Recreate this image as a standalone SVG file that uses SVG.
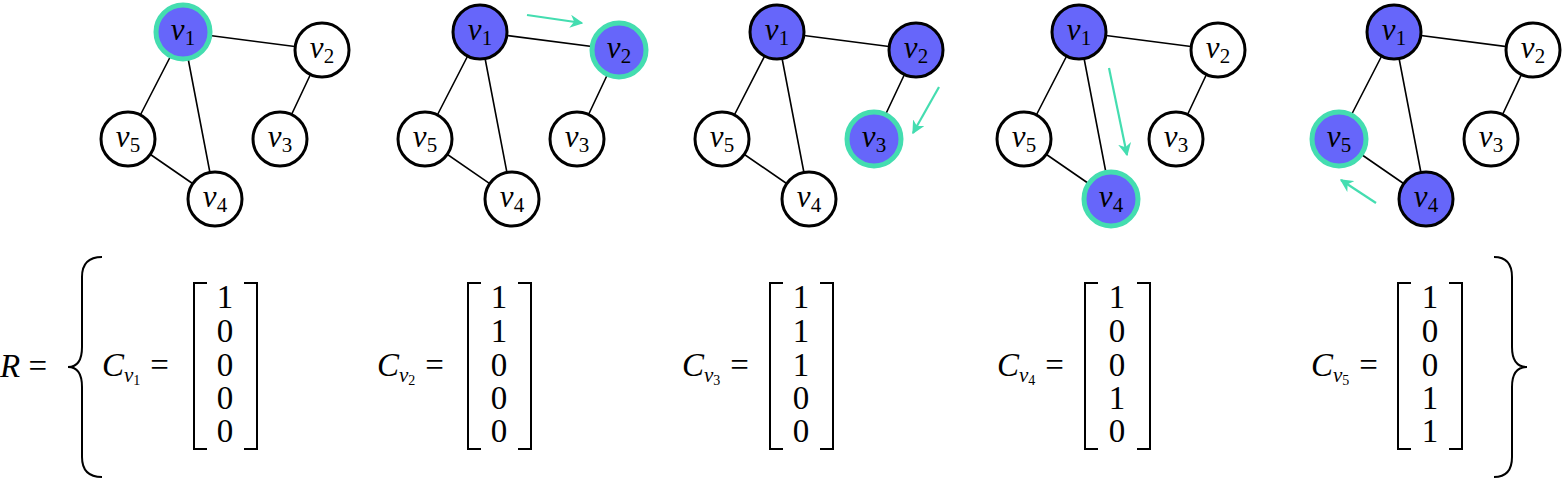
<svg xmlns="http://www.w3.org/2000/svg" width="1565" height="481" viewBox="0 0 1565 481">
<style>
.n{fill:#fff;stroke:#000;stroke-width:3}
.f{fill:#6666fa}
.g{stroke:#44ddb0;stroke-width:5}
.e{stroke:#000;stroke-width:1.6;fill:none}
.a{stroke:#44ddb0;stroke-width:2.2;fill:none;marker-end:url(#ah)}
.lb{font-family:"Liberation Serif",serif;font-size:31px;text-anchor:middle}
.v{font-style:italic}
.s{font-size:21px}
.m{font-family:"Liberation Serif",serif;font-size:33px}
.d{text-anchor:middle}
.br{stroke:#000;stroke-width:2;fill:none}
</style>
<defs>
<marker id="ah" viewBox="0 0 10 10" refX="9" refY="5" markerWidth="6" markerHeight="6" orient="auto" markerUnits="strokeWidth"><path d="M0,0 L10,5 L0,10 L3,5 Z" fill="#44ddb0"/></marker>
</defs>
<g id="connectors">
<path class="e" d="M183,32 L322,50 M183,32 L128,139 M183,32 L215,199 M322,50 L280,139 M128,139 L215,199"/>
<path class="e" d="M480,32 L619,50 M480,32 L425,139 M480,32 L512,199 M619,50 L577,139 M425,139 L512,199"/>
<path class="e" d="M777,32 L916,50 M777,32 L722,139 M777,32 L809,199 M916,50 L874,139 M722,139 L809,199"/>
<path class="e" d="M1079,32 L1218,50 M1079,32 L1024,139 M1079,32 L1111,199 M1218,50 L1176,139 M1024,139 L1111,199"/>
<path class="e" d="M1394,32 L1533,50 M1394,32 L1339,139 M1394,32 L1426,199 M1533,50 L1491,139 M1339,139 L1426,199"/>
<path class="a" d="M527,15 L582,23"/>
<path class="a" d="M939,87 L913,133"/>
<path class="a" d="M1109,68 L1127,155"/>
<path class="a" d="M1376,203 L1341,180"/>
</g>
<!-- panel 1 -->
<g id="p1v1"><circle class="n f g" cx="183" cy="32" r="27"/><text class="lb" x="183" y="40"><tspan class="v">v</tspan><tspan class="s" dy="5">1</tspan></text></g>
<g id="p1v2"><circle class="n" cx="322" cy="50" r="27"/><text class="lb" x="322" y="58"><tspan class="v">v</tspan><tspan class="s" dy="5">2</tspan></text></g>
<g id="p1v3"><circle class="n" cx="280" cy="139" r="27"/><text class="lb" x="280" y="147"><tspan class="v">v</tspan><tspan class="s" dy="5">3</tspan></text></g>
<g id="p1v4"><circle class="n" cx="215" cy="199" r="27"/><text class="lb" x="215" y="207"><tspan class="v">v</tspan><tspan class="s" dy="5">4</tspan></text></g>
<g id="p1v5"><circle class="n" cx="128" cy="139" r="27"/><text class="lb" x="128" y="147"><tspan class="v">v</tspan><tspan class="s" dy="5">5</tspan></text></g>
<!-- panel 2 -->
<g id="p2v1"><circle class="n f" cx="480" cy="32" r="27"/><text class="lb" x="480" y="40"><tspan class="v">v</tspan><tspan class="s" dy="5">1</tspan></text></g>
<g id="p2v2"><circle class="n f g" cx="619" cy="50" r="27"/><text class="lb" x="619" y="58"><tspan class="v">v</tspan><tspan class="s" dy="5">2</tspan></text></g>
<g id="p2v3"><circle class="n" cx="577" cy="139" r="27"/><text class="lb" x="577" y="147"><tspan class="v">v</tspan><tspan class="s" dy="5">3</tspan></text></g>
<g id="p2v4"><circle class="n" cx="512" cy="199" r="27"/><text class="lb" x="512" y="207"><tspan class="v">v</tspan><tspan class="s" dy="5">4</tspan></text></g>
<g id="p2v5"><circle class="n" cx="425" cy="139" r="27"/><text class="lb" x="425" y="147"><tspan class="v">v</tspan><tspan class="s" dy="5">5</tspan></text></g>
<!-- panel 3 -->
<g id="p3v1"><circle class="n f" cx="777" cy="32" r="27"/><text class="lb" x="777" y="40"><tspan class="v">v</tspan><tspan class="s" dy="5">1</tspan></text></g>
<g id="p3v2"><circle class="n f" cx="916" cy="50" r="27"/><text class="lb" x="916" y="58"><tspan class="v">v</tspan><tspan class="s" dy="5">2</tspan></text></g>
<g id="p3v3"><circle class="n f g" cx="874" cy="139" r="27"/><text class="lb" x="874" y="147"><tspan class="v">v</tspan><tspan class="s" dy="5">3</tspan></text></g>
<g id="p3v4"><circle class="n" cx="809" cy="199" r="27"/><text class="lb" x="809" y="207"><tspan class="v">v</tspan><tspan class="s" dy="5">4</tspan></text></g>
<g id="p3v5"><circle class="n" cx="722" cy="139" r="27"/><text class="lb" x="722" y="147"><tspan class="v">v</tspan><tspan class="s" dy="5">5</tspan></text></g>
<!-- panel 4 -->
<g id="p4v1"><circle class="n f" cx="1079" cy="32" r="27"/><text class="lb" x="1079" y="40"><tspan class="v">v</tspan><tspan class="s" dy="5">1</tspan></text></g>
<g id="p4v2"><circle class="n" cx="1218" cy="50" r="27"/><text class="lb" x="1218" y="58"><tspan class="v">v</tspan><tspan class="s" dy="5">2</tspan></text></g>
<g id="p4v3"><circle class="n" cx="1176" cy="139" r="27"/><text class="lb" x="1176" y="147"><tspan class="v">v</tspan><tspan class="s" dy="5">3</tspan></text></g>
<g id="p4v4"><circle class="n f g" cx="1111" cy="199" r="27"/><text class="lb" x="1111" y="207"><tspan class="v">v</tspan><tspan class="s" dy="5">4</tspan></text></g>
<g id="p4v5"><circle class="n" cx="1024" cy="139" r="27"/><text class="lb" x="1024" y="147"><tspan class="v">v</tspan><tspan class="s" dy="5">5</tspan></text></g>
<!-- panel 5 -->
<g id="p5v1"><circle class="n f" cx="1394" cy="32" r="27"/><text class="lb" x="1394" y="40"><tspan class="v">v</tspan><tspan class="s" dy="5">1</tspan></text></g>
<g id="p5v2"><circle class="n" cx="1533" cy="50" r="27"/><text class="lb" x="1533" y="58"><tspan class="v">v</tspan><tspan class="s" dy="5">2</tspan></text></g>
<g id="p5v3"><circle class="n" cx="1491" cy="139" r="27"/><text class="lb" x="1491" y="147"><tspan class="v">v</tspan><tspan class="s" dy="5">3</tspan></text></g>
<g id="p5v4"><circle class="n f" cx="1426" cy="199" r="27"/><text class="lb" x="1426" y="207"><tspan class="v">v</tspan><tspan class="s" dy="5">4</tspan></text></g>
<g id="p5v5"><circle class="n f g" cx="1339" cy="139" r="27"/><text class="lb" x="1339" y="147"><tspan class="v">v</tspan><tspan class="s" dy="5">5</tspan></text></g>
<!-- set -->
<g id="set">
<text class="m" x="0" y="377"><tspan class="v">R</tspan> =</text>
<path class="br" stroke-width="1.6" d="M102,257 Q82,257 82,277 V347 Q82,367 68,367 Q82,367 82,387 V457 Q82,477 102,477"/>
<path class="br" stroke-width="1.6" d="M1494,257 Q1512,257 1512,277 V347 Q1512,367 1527,367 Q1512,367 1512,387 V457 Q1512,477 1494,477"/>
</g>
<g id="m1">
<text class="m" x="102" y="376"><tspan class="v">C</tspan><tspan class="v" font-size="21" dy="6">v</tspan><tspan font-size="14" dy="3">1</tspan><tspan dy="-9" dx="10">=</tspan></text>
<path class="br" d="M207,283 H194 V449 H207 M244,283 H257 V449 H244"/>
<text class="m d" x="225" y="308">1</text><text class="m d" x="225" y="342">0</text><text class="m d" x="225" y="376">0</text><text class="m d" x="225" y="409">0</text><text class="m d" x="225" y="442">0</text>
</g>
<g id="m2">
<text class="m" x="377" y="376"><tspan class="v">C</tspan><tspan class="v" font-size="21" dy="6">v</tspan><tspan font-size="14" dy="3">2</tspan><tspan dy="-9" dx="10">=</tspan></text>
<path class="br" d="M481,283 H468 V449 H481 M518,283 H531 V449 H518"/>
<text class="m d" x="499" y="308">1</text><text class="m d" x="499" y="342">1</text><text class="m d" x="499" y="376">0</text><text class="m d" x="499" y="409">0</text><text class="m d" x="499" y="442">0</text>
</g>
<g id="m3">
<text class="m" x="682" y="376"><tspan class="v">C</tspan><tspan class="v" font-size="21" dy="6">v</tspan><tspan font-size="14" dy="3">3</tspan><tspan dy="-9" dx="10">=</tspan></text>
<path class="br" d="M783,283 H770 V449 H783 M820,283 H833 V449 H820"/>
<text class="m d" x="801" y="308">1</text><text class="m d" x="801" y="342">1</text><text class="m d" x="801" y="376">1</text><text class="m d" x="801" y="409">0</text><text class="m d" x="801" y="442">0</text>
</g>
<g id="m4">
<text class="m" x="997" y="376"><tspan class="v">C</tspan><tspan class="v" font-size="21" dy="6">v</tspan><tspan font-size="14" dy="3">4</tspan><tspan dy="-9" dx="10">=</tspan></text>
<path class="br" d="M1098,283 H1085 V449 H1098 M1137,283 H1150 V449 H1137"/>
<text class="m d" x="1117" y="308">1</text><text class="m d" x="1117" y="342">0</text><text class="m d" x="1117" y="376">0</text><text class="m d" x="1117" y="409">1</text><text class="m d" x="1117" y="442">0</text>
</g>
<g id="m5">
<text class="m" x="1311" y="376"><tspan class="v">C</tspan><tspan class="v" font-size="21" dy="6">v</tspan><tspan font-size="14" dy="3">5</tspan><tspan dy="-9" dx="10">=</tspan></text>
<path class="br" d="M1411,283 H1398 V449 H1411 M1449,283 H1462 V449 H1449"/>
<text class="m d" x="1430" y="308">1</text><text class="m d" x="1430" y="342">0</text><text class="m d" x="1430" y="376">0</text><text class="m d" x="1430" y="409">1</text><text class="m d" x="1430" y="442">1</text>
</g>
</svg>
